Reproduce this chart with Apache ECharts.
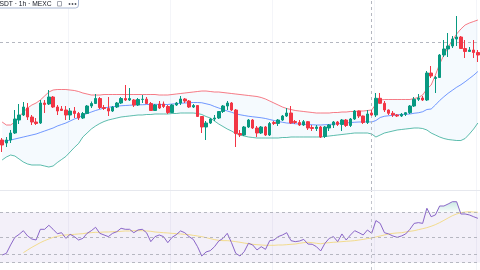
<!DOCTYPE html>
<html><head><meta charset="utf-8">
<script src="https://cdn.jsdelivr.net/npm/echarts@6/dist/echarts.min.js"></script>
<style>html,body{margin:0;padding:0;background:#fff;overflow:hidden}#c{width:480px;height:270px}</style>
</head><body><div id="c"></div>
<script>
// ---- price candles (arbitrary price units) ----
const openP  = [60,57,60,67,80,85,92,83,78,77, 97,96,103,93,91,90,85,89,86.5,82, 86.5,94,96.5,101.5,92.5,91.5,89,93,97,101.5, 100,100,95,100.5,100.8,96.5,89.5,96,96,93.5, 87.5,95,97,101,99,93,94.5,83.5,73,77, 81,82,88.5,94,97,90,66.5,65,73,80, 72,67,73,65,77.5,76.5,80,84,87,78.5, 77.5,75,78.3,72.5,71.5,73,63.5,72,75,78, 75.5,80,74.5,81,89,84,77.5,87,85,101.7, 96.7,90,86.7,85,84,85.7,87.3,94,100.7,102, 100,127,121.5,122.5,145,151,154,161,163,151.5, 148.5,150,147.5];
const closeP = [55,60,67,81,85,93,83,78,76.5,97, 95.5,103,93,89,89.5,85,89,86.5,82,86.5, 94,96.5,101.5,92.5,91.5,89,93,97,101.5,100, 101.5,95,100.5,100.8,96.5,89.5,95,92,93.5,87.5, 95,97,101,99,93,94.5,83.5,73,77,81, 82,88.5,94,97,90,66.5,65,73,80,72, 67,73,65,76.5,76.5,80,84,87,77,77.5, 75,78.3,72,71.5,73,63,73,75,78,75.5, 80,74.5,81,89,84,77.5,86,85,101.7,96.7, 90,86.7,85,84,85.7,87.3,94,100.7,102,100, 127,124,122.5,145,151,154,161,163,151.5,148.5, 150,147.5,145];
const lowP   = [48,53,57,66,76,84,80,75,75,76, 87,95,92,85,89,80,80,82,80,81, 86,92,96,91,90,84,88,92,96,99, 99,93,94,97,96,89,89,91,92,86, 87,94,95,97,92,92,83,67,60,76, 79,81,87,90,89,53,63,64,72,71, 63,66,64,64,75,74,79,83,76,76, 74,74,70,69,69,62,62,69,72,74, 69,73,73,80,82,76,76,84,83,96, 88,85,83,83,83,84,86,93,99,99, 99,122,107,122,143,143,152,154,151,142, 148,142,138];
const highP  = [62,63,70,90,96,98,97,85,82,100, 100,110,104,95,94,94,92,93,88,88, 95,98.5,106,103,95,103,94,98,103,115, 112,101,102,105,103,98,96,99,98.5,95, 96,98,104,102,100,96,95,84,79,82, 85,89,95,99,98,91,70,74,81,81, 74,74,74,78,79,81,85,92,94,80, 80,80,79,75,75,74,74,76,79,79, 81,81,82,90,89.5,84.5,90,90,107,107, 99,90.5,89,86,87,88,95,103,106,104, 129,134,124,146,160,167,164,184,164,160, 153,160,150];

// ---- Bollinger Bands ----
const bbUpper = [78,75,75,78,83,88,92,95,97,100, 104,108,110,110.5,110.5,110.5,110,109.5,108.5,107, 106,105,105,105,105.5,105.5,105.5,105.5,105.5,105.5, 105.5,105.5,105.5,105.5,105.5,105.5,105.5,105,105,105, 105.5,106,106.5,107,107.5,108,108.5,109,109,108.5, 108,108,107.5,107,106.5,106,105.5,105,104.5,104, 103.5,102.5,101,99,97,95,93,91.5,90.5,89.5, 89,88.5,88,87.5,87,87,87,87,87.5,87.5, 88,88,88.5,88.5,89,89,89.5,90,96,100, 100.5,100.5,100.5,100.5,100.5,100.5,100.5,101.5,102.5,105, 111,115,125,136,145,153,159.5,166,171,175, 177,178.5,180];
const bbBasis = [59,59,60,61,62,63,64,65,66,67.5, 69,70.5,72,74,75.5,77,79,81,82.5,85, 86.5,88,89.5,90.75,92,92.75,93.25,93.75,94.25,94.5, 94.75,95,95.25,95.25,95.5,95.5,95.75,95.5,95.5,95.5, 96,96.25,96.75,97,97.25,97.5,97.5,97.25,96.25,95.25, 93.5,92,90.5,89,87.75,86.25,85.25,84.5,83.75,83.25, 82.75,82.25,81.5,80.5,79.5,78.5,77.75,77,76.75,76.25, 76,75.75,75.5,75.25,75,75,75.25,75.5,76,76.25, 76.75,77,77.5,77.75,78,78,78.25,78,79.5,82.5, 83.75,84.25,84.75,85.25,85.5,85.75,86,86.75,87.25,88.25, 90.5,91,95,99.5,103.25,106.75,109.75,112.75,115.25,118.25, 121.5,124.75,128.5];
const bbLower = [40,43,45,44,41,38,36,35,35,35, 34,33,34,37.5,40.5,43.5,48,52.5,56.5,63, 67,71,74,76.5,78.5,80,81,82,83,83.5, 84,84.5,85,85,85.5,85.5,86,86,86,86, 86.5,86.5,87,87,87,87,86.5,85.5,83.5,82, 79,76,73.5,71,69,66.5,65,64,63,62.5, 62,62,62,62,62,62,62.5,62.5,63,63, 63,63,63,63,63,63,63.5,64,64.5,65, 65.5,66,66.5,67,67,67,67,66,63,65, 67,68,69,70,70.5,71,71.5,72,72,71.5, 70,67,65,63,61.5,60.5,60,59.5,59.5,61.5, 66,71,77];

// ---- RSI pane ----
const rsi = [36.1,37.4,44.1,50.1,52.5,55.4,51.2,48.8,48.0,56.5, 56.5,59.7,56.5,53.0,53.8,49.3,52.5,50.7,48.0,49.3, 53.3,55.4,58.1,53.3,52.0,50.7,53.3,54.6,57.3,56.5, 56.5,53.8,56.0,56.5,53.8,46.7,50.7,52.0,50.7,45.9, 50.1,52.25,55.2,53.8,50.7,48.5,42.7,35.3,38.5,39.55, 42.7,47.2,49.3,53.3,45.9,37.4,35.3,38.8,45.4,44.05, 40.1,42.7,40.6,47.5,48.0,50.7,52.0,53.8,47.5,46.7, 47.2,48.5,44.8,44.6,42.7,39.3,45.4,49.3,50.7,46.7, 52.8,48.0,52.0,55.4,53.8,52.0,55.95,53.3,63.4,61.2, 53.8,52.8,51.2,50.1,51.2,52.8,56.5,61.2,61.8,61.2, 73.2,66.5,67.9,75.0,75.0,76.6,78.4,78.4,68.65,68.65, 67.9,66.5,65.2];
const rsiMA = [null,null,null,null,null,37.96,40.1,42.2,44.05,45.9, 47.5,48.8,50.1,50.9,51.7,52.0,52.25,52.5,52.8,53.04, 53.57,53.84,54.1,54.1,54.37,54.37,54.63,54.63,54.9,55.16, 55.16,55.4,55.4,55.4,55.16,54.9,54.37,54.1,53.8,53.6, 53.3,53.0,52.8,52.5,52.25,51.7,51.2,50.7,49.9,49.1, 48.3,47.75,47.5,47.5,47.2,46.7,46.2,45.6,45.1,44.6, 44.3,44.05,43.8,43.8,43.8,44.05,44.05,44.3,44.6,44.8, 45.4,45.9,46.2,45.9,45.4,45.0,45.6,45.9,46.2,46.4, 46.7,47.0,47.2,47.5,48.0,48.5,49.1,49.6,50.4,51.2, 52.0,52.8,53.3,53.6,53.8,54.4,54.9,55.4,56.2,57.0, 57.8,58.9,60.2,61.8,63.6,65.5,67.3,68.65,69.7,70.2, 70.5,70.2,70.0];
const rsiLevels = [70, 50, 36.9, 30];
const crossIndex = 87;
const crossPrice = 158;

const categories = openP.map((_, i) => {
  const h = i + 6;
  return 'D' + (Math.floor(h / 24) + 1) + ' ' + String(h % 24).padStart(2, '0') + ':00';
});

const candleData = openP.map((o, i) => [o, closeP[i], lowP[i], highP[i]]);
const bandWidth = bbUpper.map((u, i) => u - bbLower[i]);
const obBase = rsi.map(() => 70);
const obFill = rsi.map(v => Math.max(0, v - 70));

const chart = echarts.init(document.getElementById('c'), null, {renderer: 'canvas'});
const hidden = {show: false};
const cross = {color: '#b4b7c0', type: [3, 3], width: 1};
const vgrid = {show: true, interval: (idx) => (idx - 16) % 24 === 0, lineStyle: {color: '#f4f5f9', width: 1}};
chart.setOption({
  animation: false,
  backgroundColor: '#ffffff',
  grid: [
    {left: 0, right: 0, top: 0, height: 190},
    {left: 0, right: 0, top: 191, bottom: 0}
  ],
  xAxis: [
    {type: 'category', data: categories, gridIndex: 0, boundaryGap: true,
     axisLine: hidden, axisTick: hidden, axisLabel: hidden, splitLine: vgrid},
    {type: 'category', data: categories, gridIndex: 1, boundaryGap: true,
     axisLine: hidden, axisTick: hidden, axisLabel: hidden, splitLine: vgrid}
  ],
  yAxis: [
    {type: 'value', gridIndex: 0, min: 10, max: 200, axisLine: hidden, axisTick: hidden, axisLabel: hidden, splitLine: hidden},
    {type: 'value', gridIndex: 1, min: 24.2, max: 86.9, axisLine: hidden, axisTick: hidden, axisLabel: hidden, splitLine: hidden}
  ],
  series: [
    {type: 'line', data: bbLower, stack: 'bb', symbol: 'none', silent: true, lineStyle: {opacity: 0}, z: 1},
    {type: 'line', data: bandWidth, stack: 'bb', symbol: 'none', silent: true, lineStyle: {opacity: 0},
     areaStyle: {color: 'rgba(33,150,243,0.065)'}, z: 1},
    {type: 'line', data: bbUpper, symbol: 'none', silent: true, lineStyle: {color: '#f23645', width: 1, opacity: 0.65}, z: 2},
    {type: 'line', data: bbBasis, symbol: 'none', silent: true, lineStyle: {color: '#2962ff', width: 1, opacity: 0.65}, z: 2},
    {type: 'line', data: bbLower, symbol: 'none', silent: true, lineStyle: {color: '#089981', width: 1, opacity: 0.65}, z: 2},
    {type: 'candlestick', data: candleData, barWidth: 3, z: 5,
     itemStyle: {color: '#089981', color0: '#f23645', borderColor: '#089981', borderColor0: '#f23645', borderWidth: 1},
     markLine: {silent: true, symbol: 'none', label: hidden, lineStyle: cross,
       data: [{xAxis: categories[crossIndex]}, {yAxis: crossPrice}]}},
    {type: 'line', xAxisIndex: 1, yAxisIndex: 1, data: obBase, stack: 'ob', symbol: 'none', silent: true, lineStyle: {opacity: 0}, z: 1},
    {type: 'line', xAxisIndex: 1, yAxisIndex: 1, data: obFill, stack: 'ob', symbol: 'none', silent: true, lineStyle: {opacity: 0},
     areaStyle: {color: {type: 'linear', x: 0, y: 0, x2: 0, y2: 1,
       colorStops: [{offset: 0, color: 'rgba(8,153,129,0.3)'}, {offset: 1, color: 'rgba(8,153,129,0.04)'}]}}, z: 1},
    {type: 'line', xAxisIndex: 1, yAxisIndex: 1, data: rsiMA, symbol: 'none', silent: true,
     lineStyle: {color: '#f2d46a', width: 1, opacity: 0.75}, z: 3},
    {type: 'line', xAxisIndex: 1, yAxisIndex: 1, data: rsi, symbol: 'none', silent: true,
     lineStyle: {color: '#7e57c2', width: 1, opacity: 0.9}, z: 4,
     markArea: {silent: true, itemStyle: {color: 'rgba(126,87,194,0.09)'},
       data: [[{yAxis: rsiLevels[3]}, {yAxis: rsiLevels[0]}]]},
     markLine: {silent: true, symbol: 'none', label: hidden,
       lineStyle: {color: '#a6a9b3', type: [3, 3], width: 1, opacity: 0.8},
       data: rsiLevels.map(v => ({yAxis: v})).concat([{xAxis: categories[crossIndex], lineStyle: cross}])}}
  ],
  graphic: [
    {type: 'line', shape: {x1: 0, y1: 190.5, x2: 480, y2: 190.5}, style: {stroke: '#e6e8ee', lineWidth: 1}, z: 10},
    {type: 'rect', shape: {x: -6, y: -6, width: 84.5, height: 14, r: 3}, style: {fill: '#ffffff', stroke: '#a9b7d3', lineWidth: 1}, z: 20},
    {type: 'text', x: -0.5, y: 4.3, style: {text: 'SDT · 1h · MEXC', fill: '#131722', font: '6.7px "Liberation Sans", Arial, sans-serif', textVerticalAlign: 'middle'}, z: 21},
    {type: 'rect', shape: {x: 57.5, y: 1.5, width: 4, height: 4.5}, style: {fill: 'none', stroke: '#a3a6af', lineWidth: 1}, z: 21},
    {type: 'circle', shape: {cx: 69.5, cy: 4, r: 0.9}, style: {fill: '#4a4d57'}, z: 21},
    {type: 'circle', shape: {cx: 72.5, cy: 4, r: 0.9}, style: {fill: '#4a4d57'}, z: 21},
    {type: 'circle', shape: {cx: 75.5, cy: 4, r: 0.9}, style: {fill: '#4a4d57'}, z: 21}
  ]
});
</script>
</body></html>
